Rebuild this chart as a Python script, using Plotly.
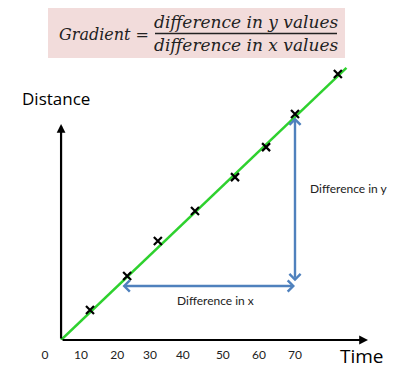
import plotly.graph_objects as go

# ---- data (time, distance) ----
time_pts = [12.6, 23.0, 31.6, 42.0, 53.2, 61.9, 70.0, 82.0]
dist_pts = [8.4, 17.9, 27.7, 36.1, 45.6, 54.0, 63.3, 74.5]
line_time = [4.5, 84.4]
line_dist = [0.0, 76.2]
tick_vals = [0, 10.1, 20.2, 29.4, 38.6, 49.8, 59.9, 70]
tick_text = ["0", "10", "20", "30", "40", "50", "60", "70"]

W, H = 400, 380
BOTTOM = 40
SCALE = 0.28          # data units per pixel
X0 = -45 * SCALE       # data x at left edge
XR = [X0, X0 + W * SCALE]
YR = [0, (H - BOTTOM) * SCALE]

def px_x(p):
    return X0 + p * SCALE

def px_y(p):
    return (H - BOTTOM - p) * SCALE

fig = go.Figure()
fig.add_trace(go.Scatter(x=line_time, y=line_dist, mode="lines",
                         line=dict(color="#2ed12e", width=2.5),
                         hoverinfo="skip", cliponaxis=False))
fig.add_trace(go.Scatter(x=time_pts, y=dist_pts, mode="markers",
                         marker=dict(symbol="x-thin", size=8,
                                     line=dict(color="black", width=2.2)),
                         cliponaxis=False))

ann = []
# axes arrows
origin = (line_time[0], 0)
ann.append(dict(x=px_x(368), y=0, ax=origin[0], ay=0, axref="x", ayref="y",
                xref="x", yref="y", text="", showarrow=True, arrowhead=2,
                arrowsize=0.8, arrowwidth=2.2, arrowcolor="black", standoff=0))
ann.append(dict(x=origin[0], y=px_y(124), ax=origin[0], ay=0, axref="x", ayref="y",
                xref="x", yref="y", text="", showarrow=True, arrowhead=2,
                arrowsize=0.8, arrowwidth=2.2, arrowcolor="black", standoff=0))
# difference arrows
blue = "#4f81bd"
top_pt = (time_pts[6], dist_pts[6] - 1.0)
base_y = px_y(286)
ann.append(dict(x=top_pt[0], y=top_pt[1], ax=top_pt[0], ay=base_y + 0.9,
                axref="x", ayref="y", xref="x", yref="y", text="", showarrow=True,
                arrowhead=4, arrowside="end+start", arrowsize=0.9, arrowwidth=2.4,
                arrowcolor=blue, standoff=0, startstandoff=0))
ann.append(dict(x=top_pt[0], y=base_y, ax=px_x(121), ay=base_y,
                axref="x", ayref="y", xref="x", yref="y", text="", showarrow=True,
                arrowhead=4, arrowside="end+start", arrowsize=0.9, arrowwidth=2.4,
                arrowcolor=blue, standoff=0, startstandoff=0))
lbl_font = dict(family="Lato, Carlito, sans-serif", size=12, color="#222")
ann.append(dict(x=px_x(215), y=px_y(300), text="Difference in x", showarrow=False,
                font=lbl_font))
ann.append(dict(x=px_x(349), y=px_y(188), text="Difference in y", showarrow=False,
                font=lbl_font))
# axis titles
ann.append(dict(x=px_x(56), y=px_y(98), text="Distance", showarrow=False,
                font=dict(family="Open Sans, sans-serif", size=17, color="black")))
ann.append(dict(x=362 / W, y=(H - BOTTOM - 356) / (H - BOTTOM), xref="paper",
                yref="paper", xanchor="center", yanchor="middle", text="Time",
                showarrow=False,
                font=dict(family="Open Sans, sans-serif", size=19, color="black")))
# formula
ffont = dict(family="DejaVu Serif, serif", size=17, color="#222")
ann.append(dict(x=px_x(104), y=px_y(34), text="<i>Gradient =</i>", showarrow=False,
                font=dict(family="DejaVu Serif, serif", size=16, color="#222")))
ann.append(dict(x=px_x(246), y=px_y(22), text="<i>difference in y values</i>",
                showarrow=False, font=ffont))
ann.append(dict(x=px_x(246), y=px_y(45), text="<i>difference in x values</i>",
                showarrow=False, font=ffont))
for a in ann:
    a.setdefault("xref", "x")
    a.setdefault("yref", "y")

shapes = [
    dict(type="rect", xref="x", yref="y", x0=px_x(48), x1=px_x(345),
         y0=px_y(58), y1=px_y(8), fillcolor="#f2dcdb", line=dict(width=0),
         layer="below"),
    dict(type="line", xref="x", yref="y", x0=px_x(155), x1=px_x(337),
         y0=px_y(33.5), y1=px_y(33.5), line=dict(color="#222", width=1.3)),
]

fig.update_layout(
    width=W, height=H, margin=dict(l=0, r=0, t=0, b=BOTTOM),
    paper_bgcolor="white", plot_bgcolor="white", showlegend=False,
    annotations=ann, shapes=shapes,
    xaxis=dict(range=XR, showgrid=False, zeroline=False, showline=False,
               tickvals=tick_vals, ticktext=tick_text, ticks="",
               ticklabelstandoff=6,
               tickfont=dict(family="Lato, Carlito, sans-serif", size=12, color="#222"),
               fixedrange=True),
    yaxis=dict(range=YR, showgrid=False, zeroline=False, showline=False,
               showticklabels=False, fixedrange=True),
)
fig.write_html("out.html", config={"displayModeBar": False})
